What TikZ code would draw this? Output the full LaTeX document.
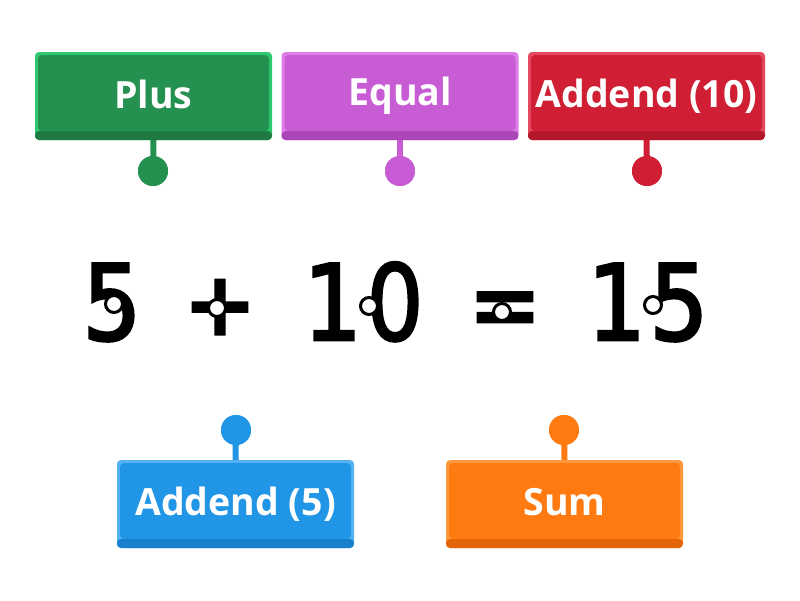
\documentclass[tikz,border=0pt]{standalone}
\usepackage{fontspec}
\setmainfont{Open Sans}
\newfontfamily\eqfont[FakeBold=2.5]{DejaVu Sans Mono}
\newfontfamily\eqzero[FakeBold=2.5]{DejaVu Sans}
\definecolor{gM}{RGB}{36,145,80}
\definecolor{gL}{RGB}{46,200,110}
\definecolor{gD}{RGB}{30,122,66}
\definecolor{pM}{RGB}{200,92,212}
\definecolor{pL}{RGB}{222,125,232}
\definecolor{pD}{RGB}{172,70,184}
\definecolor{rM}{RGB}{208,30,52}
\definecolor{rL}{RGB}{228,72,92}
\definecolor{rD}{RGB}{180,22,42}
\definecolor{bM}{RGB}{34,150,230}
\definecolor{bL}{RGB}{84,178,242}
\definecolor{bD}{RGB}{24,128,205}
\definecolor{oM}{RGB}{255,122,16}
\definecolor{oL}{RGB}{255,152,62}
\definecolor{oD}{RGB}{228,100,8}
\newcommand{\lift}[1]{\raisebox{4pt}{#1}}
\tikzset{
  labelbox/.style={rounded corners=4pt, minimum width=237pt, minimum height=88pt,
    inner sep=0pt, fill=#1L, text=white,
    font=\bfseries\fontsize{37.5}{42}\selectfont,
    path picture={
      \fill[#1D] (path picture bounding box.south west) rectangle ([yshift=9pt]path picture bounding box.south east);
      \fill[#1M] ([xshift=3pt,yshift=9pt]path picture bounding box.south west) rectangle ([xshift=-3pt,yshift=-3pt]path picture bounding box.north east);
    }},
  pin/.style={circle, fill=#1M, minimum size=30pt, inner sep=0pt},
  stem/.style={line width=6pt, #1M},
  glyph/.style={inner sep=0pt, anchor=base, font=\eqfont\fontsize{105}{110}\selectfont},
  target/.style={circle, draw=black, line width=3pt, fill=white, minimum size=17pt, inner sep=0pt}
}
\begin{document}
\begin{tikzpicture}[x=1pt,y=-1pt]
\useasboundingbox (0,0) rectangle (800,600);
% equation
\node[glyph] (g5) at (112,340) {\scalebox{0.92}[1]{5}};
\node[glyph] (gplus) at (220,340) {+};
\node[glyph] (g1a) at (331,340) {\scalebox{0.92}[1]{1}};
\node[glyph, font=\eqzero\fontsize{105}{110}\selectfont] (g0) at (395,340) {\scalebox{0.85}[1]{0}};
\node[glyph] (geq) at (505,340) {=};
\node[glyph] (g1b) at (615,340) {\scalebox{0.92}[1]{1}};
\node[glyph] (g5b) at (679,340) {\scalebox{0.92}[1]{5}};
% boxes
\node[labelbox=g] (plus) at (153.5,96) {\lift{Plus}};
\node[labelbox=p] (equal) at (400,96) {\lift{Equal}};
\node[labelbox=r] (add10) at (646.5,96) {\lift{Addend (10)}};
\node[labelbox=b] (add5) at (235.5,504) {\lift{Addend (5)}};
\node[labelbox=o] (sum) at (564.5,504) {\lift{Sum}};
% pins
\node[pin=g] (plusdot) at (153,171) {};
\node[pin=p] (equaldot) at (400,171) {};
\node[pin=r] (add10dot) at (647,171) {};
\node[pin=b] (add5dot) at (236,430) {};
\node[pin=o] (sumdot) at (564,430) {};
\draw[stem=g] (plus.south) -- (plusdot.center);
\draw[stem=p] (equal.south) -- (equaldot.center);
\draw[stem=r] (add10.south) -- (add10dot.center);
\draw[stem=b] (add5.north) -- (add5dot.center);
\draw[stem=o] (sum.north) -- (sumdot.center);
\node[pin=g] at (plusdot) {};
\node[pin=p] at (equaldot) {};
\node[pin=r] at (add10dot) {};
\node[pin=b] at (add5dot) {};
\node[pin=o] at (sumdot) {};
% targets
\node[target] (t5) at (114,304) {};
\node[target] (tplus) at (217,308) {};
\node[target] (t10) at (369,306) {};
\node[target] (teq) at (502,312) {};
\node[target] (t15) at (653,305) {};
\end{tikzpicture}
\end{document}
